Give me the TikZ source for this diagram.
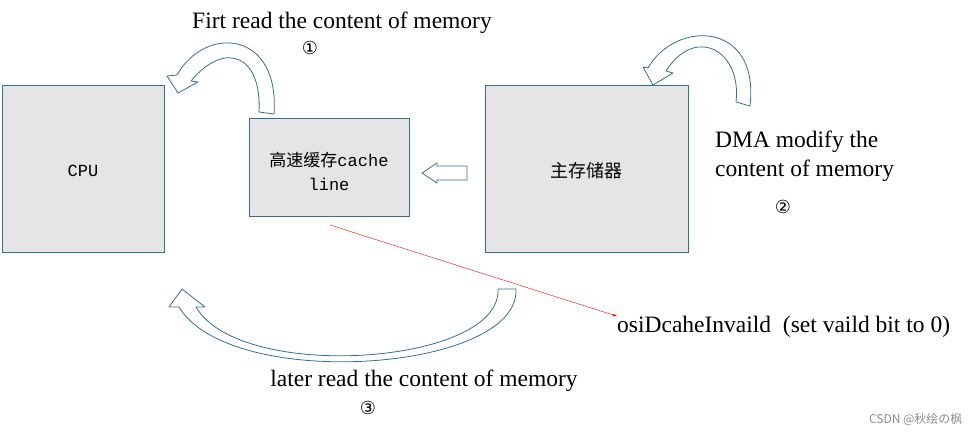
\documentclass[tikz,border=0pt]{standalone}
\usepackage{fontspec}
\setmainfont{Liberation Serif}
\newfontfamily\cjk{Noto Sans CJK SC}
\newfontfamily\mono{Liberation Mono}
\newfontfamily\dv{DejaVu Sans}
\begin{document}
\begin{tikzpicture}[x=1pt,y=-1pt,
  box/.style={draw=blue!40!black!60!cyan!60!gray,fill=black!10,line width=0.8pt},
  harrow/.style={draw=blue!40!black!60!cyan!60!gray,fill=white,line width=0.8pt,line join=round},
  lab/.style={font=\fontsize{23.5}{29}\selectfont,inner sep=0pt},
  num/.style={font=\dv\fontsize{18}{20}\selectfont,inner sep=0pt}]
\useasboundingbox (0,0) rectangle (979,437);
\draw[box] (2,85) rectangle (164,252);
\node[font=\mono\fontsize{17}{19}\selectfont] (cpu) at (83,171) {CPU};
\draw[box] (249,118) rectangle (409,216);
\node[align=center,font=\fontsize{17}{24}\selectfont] (cache) at (329,171) {{\cjk 高速缓存}{\mono cache}\\{\mono line}};
\draw[box] (485,85) rectangle (688,252);
\node[font=\cjk\fontsize{18}{20}\selectfont] (mem) at (586,171) {主存储器};
% hollow left arrow
\draw[harrow] (422,173) -- (437,163) -- (437,166) -- (467,166) -- (467,180) -- (437,180) -- (437,183) -- cycle;
% curved arrows
\draw[harrow] (259,112) .. controls (262,55) and (225,40) .. (191,81) -- (198,82) -- (178,93) -- (167,76) -- (177,75) .. controls (205,25) and (280,30) .. (274,114) -- cycle;
\draw[harrow] (736,102) .. controls (742,50) and (695,25) .. (666,71) -- (673,73) -- (653,85) -- (643,67) -- (648,68) .. controls (675,20) and (760,20) .. (750,106) -- cycle;
\draw[harrow] (498,289) -- (516,289) .. controls (520,372) and (230,392) .. (179,307) -- (169,307) -- (182,289) -- (205,307) -- (196,307) .. controls (240,383) and (502,365) .. (498,289) -- cycle;
% labels
\node[lab] (t1) at (342,23) {Firt read the content of memory};
\node[num] (n1) at (310,48) {①};
\node[lab,align=left,anchor=west] (t2) at (715,156) {DMA modify the\\content of memory};
\node[num] (n2) at (783,207) {②};
\node[lab] (t3) at (424,381) {later read the content of memory};
\node[num] (n3) at (368,408) {③};
\node[lab,anchor=west] (inv) at (617,327) {osiDcaheInvaild\ \ (set vaild bit to 0)};
\coordinate (rs) at (330,225);
\draw[red,-latex] (rs) -- (inv.north west);
\node[font=\cjk\fontsize{12}{14}\selectfont,text=black!45,anchor=east] (wm) at (966,419) {CSDN @秋绘の枫};
\end{tikzpicture}
\end{document}
